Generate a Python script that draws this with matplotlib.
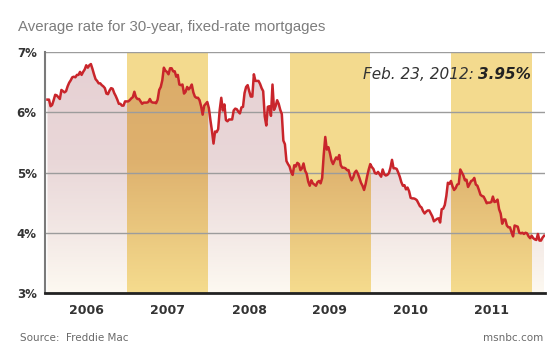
import matplotlib
matplotlib.use('Agg')
import matplotlib.pyplot as plt
import matplotlib.dates as mdates
from matplotlib.colors import LinearSegmentedColormap
from matplotlib.patches import Polygon
import numpy as np
import pandas as pd

# Freddie Mac weekly 30-year fixed rate (%), one list per year
rates_2006 = [6.21, 6.21, 6.10, 6.12, 6.20, 6.29, 6.28, 6.25, 6.22, 6.37, 6.35, 6.33, 6.35,
              6.43, 6.49, 6.53, 6.58, 6.59, 6.58, 6.62, 6.62, 6.67, 6.62, 6.67, 6.71, 6.78,
              6.74, 6.78, 6.80, 6.72, 6.63, 6.55, 6.52, 6.48, 6.48, 6.45, 6.43, 6.40, 6.31,
              6.30, 6.36, 6.40, 6.39, 6.32, 6.27, 6.21, 6.14, 6.14, 6.11, 6.11, 6.18, 6.18]
rates_2007 = [6.18, 6.20, 6.23, 6.25, 6.34, 6.25, 6.22, 6.22, 6.18, 6.14, 6.16, 6.16, 6.16,
              6.17, 6.22, 6.17, 6.16, 6.16, 6.15, 6.21, 6.37, 6.42, 6.53, 6.74, 6.69, 6.67,
              6.63, 6.73, 6.73, 6.68, 6.68, 6.59, 6.62, 6.46, 6.45, 6.46, 6.31, 6.34, 6.42,
              6.38, 6.41, 6.46, 6.33, 6.26, 6.24, 6.24, 6.20, 6.10, 5.96, 6.11, 6.14, 6.17]
rates_2008 = [6.07, 5.87, 5.69, 5.48, 5.68, 5.67, 5.72, 6.04, 6.24, 6.03, 6.13, 5.87, 5.85,
              5.88, 5.88, 5.88, 6.03, 6.06, 6.05, 6.01, 5.98, 6.08, 6.09, 6.32, 6.42, 6.45,
              6.35, 6.26, 6.26, 6.63, 6.52, 6.52, 6.52, 6.47, 6.40, 6.35, 5.93, 5.78, 6.09,
              6.10, 5.94, 6.46, 6.04, 6.10, 6.20, 6.14, 6.04, 5.97, 5.53, 5.47, 5.19, 5.14, 5.10]
rates_2009 = [5.01, 4.96, 5.12, 5.10, 5.16, 5.14, 5.04, 5.07, 5.15, 5.03, 4.98, 4.85, 4.78,
              4.87, 4.82, 4.80, 4.78, 4.84, 4.86, 4.82, 4.91, 5.29, 5.59, 5.38, 5.42, 5.32,
              5.20, 5.14, 5.20, 5.25, 5.22, 5.29, 5.12, 5.08, 5.08, 5.07, 5.04, 5.04, 4.94,
              4.87, 4.92, 5.00, 5.03, 4.98, 4.91, 4.83, 4.78, 4.71, 4.81, 4.94, 5.05, 5.14]
rates_2010 = [5.09, 5.06, 4.99, 4.98, 5.01, 4.97, 4.93, 5.05, 4.97, 4.95, 4.96, 4.99, 5.08,
              5.21, 5.07, 5.07, 5.06, 5.00, 4.93, 4.84, 4.78, 4.79, 4.72, 4.75, 4.69, 4.58,
              4.57, 4.57, 4.56, 4.54, 4.49, 4.44, 4.42, 4.36, 4.32, 4.35, 4.37, 4.37, 4.32,
              4.27, 4.19, 4.21, 4.23, 4.24, 4.17, 4.39, 4.40, 4.46, 4.61, 4.83, 4.81, 4.86]
rates_2011 = [4.77, 4.71, 4.74, 4.80, 4.81, 5.05, 5.00, 4.95, 4.87, 4.88, 4.76, 4.81, 4.86,
              4.87, 4.91, 4.80, 4.78, 4.71, 4.63, 4.61, 4.60, 4.55, 4.49, 4.50, 4.50, 4.51,
              4.60, 4.51, 4.52, 4.55, 4.39, 4.32, 4.15, 4.22, 4.22, 4.12, 4.09, 4.09, 4.01,
              3.94, 4.12, 4.11, 4.10, 4.00, 3.99, 4.00, 3.98, 4.00, 3.99, 3.94, 3.91, 3.95]
rates_2012 = [3.91, 3.89, 3.88, 3.98, 3.87, 3.87, 3.92, 3.95]

first_week = '2006-01-05'
last_week = '2012-02-23'
band_years = [2007, 2009, 2011]
label_years = [2006, 2007, 2008, 2009, 2010, 2011]
y_ticks = [3, 4, 5, 6, 7]

rates = rates_2006 + rates_2007 + rates_2008 + rates_2009 + rates_2010 + rates_2011 + rates_2012
dates = pd.date_range(first_week, last_week, freq='W-THU')
xnum = mdates.date2num(dates)

YELLOW = '#f3da8e'
RED = '#c9252b'
pink_stops = [(0.0, '#fdf9f1'), (0.3, '#f1e5e3'), (0.55, '#e9d7d8'), (1.0, '#e6d0d3')]
tan_stops = [(0.0, '#f5dc8e'), (0.3, '#e8c47c'), (0.55, '#deb16e'), (1.0, '#dbab69')]


def gradient_fill(ax, x0, x1, stops, clip, z):
    cmap = LinearSegmentedColormap.from_list('grad', stops)
    grad = np.linspace(0, 1, 256).reshape(-1, 1)
    im = ax.imshow(grad, cmap=cmap, aspect='auto', origin='lower',
                   extent=[x0, x1, y_ticks[0], y_ticks[-1]], zorder=z,
                   interpolation='bilinear')
    im.set_clip_path(clip)


fig = plt.figure(figsize=(5.6, 3.52), dpi=100)
ax = fig.add_axes([45 / 560, 59 / 352, 500 / 560, 241 / 352])

ax.plot(dates, rates, color=RED, lw=1.8, zorder=3, solid_joinstyle='round')

# yellow year bands
for yr in band_years:
    ax.axvspan(pd.Timestamp(f'{yr}-01-01'), pd.Timestamp(f'{yr + 1}-01-01'),
               color=YELLOW, lw=0, zorder=0.2)

# area under the line: pink outside bands, tan inside
verts = np.column_stack([np.r_[xnum[0], xnum, xnum[-1]],
                         np.r_[y_ticks[0], rates, y_ticks[0]]])
clip = Polygon(verts, closed=True, transform=ax.transData)
gradient_fill(ax, xnum[0], xnum[-1], pink_stops, clip, 0.3)
for yr in band_years:
    b0 = mdates.date2num(pd.Timestamp(f'{yr}-01-01'))
    b1 = min(mdates.date2num(pd.Timestamp(f'{yr + 1}-01-01')), xnum[-1])
    gradient_fill(ax, b0, b1, tan_stops, clip, 0.4)

ax.set_xlim(pd.Timestamp('2005-12-25'), pd.Timestamp('2012-02-27'))
ax.set_ylim(y_ticks[0], y_ticks[-1])

ax.set_yticks(y_ticks)
ax.set_yticklabels([f'{v}%' for v in y_ticks], fontfamily='DejaVu Sans',
                   fontweight='bold', fontsize=8.5, color='#333333')
mid_years = [pd.Timestamp(f'{yr}-07-02') for yr in label_years]
ax.set_xticks(mid_years)
ax.set_xticklabels([str(yr) for yr in label_years], fontfamily='DejaVu Sans',
                   fontweight='bold', fontsize=9, color='#333333')
ax.tick_params(axis='both', length=0)
ax.tick_params(axis='y', pad=6)
ax.tick_params(axis='x', pad=8)

ax.set_axisbelow('line')
ax.yaxis.grid(True, color='#9c9c9c', lw=1)
ax.spines['top'].set_visible(False)
ax.spines['right'].set_visible(False)
ax.spines['left'].set_color('#7a7a7a')
ax.spines['left'].set_linewidth(1.5)
ax.spines['bottom'].set_color('#222222')
ax.spines['bottom'].set_linewidth(2)

ax.text(0.858, 0.905, 'Feb. 23, 2012:', transform=ax.transAxes, ha='right',
        va='center', fontsize=11, style='italic', color='#333333',
        fontfamily='DejaVu Sans')
ax.text(0.866, 0.905, f'{rates[-1]:.2f}%', transform=ax.transAxes, ha='left',
        va='center', fontsize=11, style='italic', fontweight='bold', color='#222222',
        fontfamily='DejaVu Sans')

fig.text(18 / 560, 1 - 27 / 352, 'Average rate for 30-year, fixed-rate mortgages',
         ha='left', va='center', fontsize=10.8, color='#7d7d7d',
         fontfamily='Liberation Sans')
fig.text(20 / 560, 1 - 338 / 352, 'Source:  Freddie Mac', ha='left', va='center',
         fontsize=7.5, color='#6a6a6a', fontfamily='DejaVu Sans')
fig.text(543 / 560, 1 - 338 / 352, 'msnbc.com', ha='right', va='center',
         fontsize=7.5, color='#6a6a6a', fontfamily='DejaVu Sans')

fig.savefig('out.png', dpi=100, facecolor='white')
